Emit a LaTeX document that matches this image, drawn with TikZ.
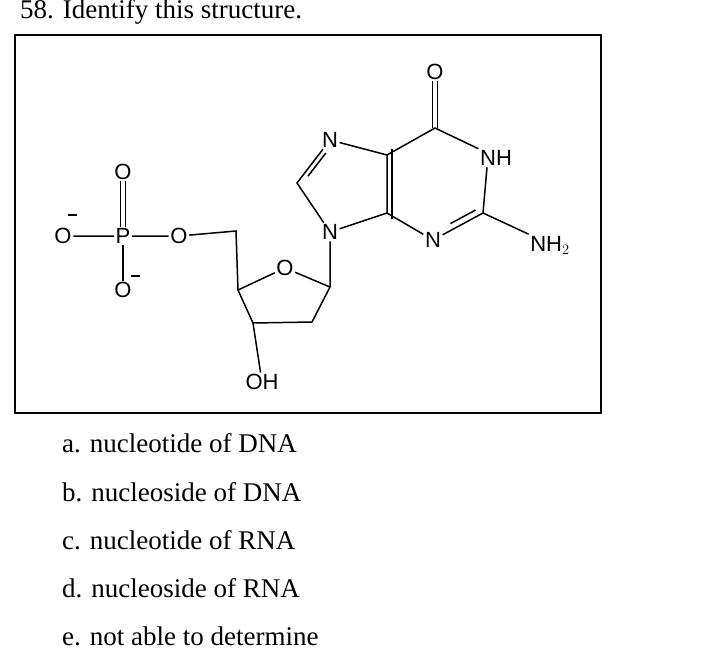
\documentclass[tikz,border=0pt]{standalone}
\usepackage{fontspec}
\setmainfont{Liberation Serif}
\newfontfamily\chem{Liberation Sans}
\usetikzlibrary{calc}
\begin{document}
\begin{tikzpicture}[x=1pt,y=-1pt,
  atm/.style={font=\chem\fontsize{22}{22}\selectfont, inner sep=1.5pt},
  bond/.style={line width=1.5pt},
  ans/.style={font=\fontsize{27}{27}\selectfont, anchor=west, inner sep=0pt}]
\useasboundingbox (0,0) rectangle (706,654);
\node[font=\fontsize{27}{27}\selectfont, anchor=west, inner sep=0pt] (title) at (20,12) {58. Identify this structure.};
\draw[line width=1.3pt] (15,35) rectangle (601,413);
% phosphate
\node[atm] (Om) at (63,236) {O};
\node[atm] (P) at (123,236) {P};
\node[atm] (Ot) at (123,172) {O};
\node[atm] (Ob) at (123,290) {O};
\node[atm] (Oe) at (179,236) {O};
\draw[bond] (68,215) -- (77,215);
\draw[bond] (131,276) -- (140,276);
\coordinate (C5p) at (236,231);
\coordinate (C4p) at (238,290);
\node[atm] (Or) at (285,268) {O};
\coordinate (C1p) at (330,287);
\coordinate (C2p) at (312,322);
\coordinate (C3p) at (253,323);
\node[atm] (OH) at (262,382) {OH};
\draw[bond] (Om) -- (P) -- (Oe) -- (C5p) -- (C4p) -- (Or) -- (C1p) -- (C2p) -- (C3p) -- (C4p);
\draw[bond] (P) -- (Ob);
\draw[bond] ([xshift=-2.5pt]P.north) -- ([xshift=-2.5pt]Ot.south);
\draw[bond] ([xshift=2.5pt]P.north) -- ([xshift=2.5pt]Ot.south);
\draw[bond] (C3p) -- (OH);
% base
\node[atm] (N9) at (330,232) {N};
\coordinate (C8) at (297,183);
\node[atm] (N7) at (330,140) {N};
\coordinate (C5) at (387,155);
\coordinate (C4) at (387,213);
\node[atm] (N3) at (433,240) {N};
\coordinate (C2) at (483,213);
\node[atm] (N1) at (496,158) {NH};
\coordinate (C6) at (435,128);
\node[atm] (O6) at (435,72) {O};
\node[atm] (NH2) at (550,245) {NH$_2$};
\draw[bond] (C1p) -- (N9) -- (C8) -- (N7) -- (C5) -- (C4) -- (N9);
\draw[bond] (C5) -- (C6) -- (N1.north west);
\draw[bond] ([xshift=-9pt]N1.south) -- (C2) -- (N3) -- (C4);
\draw[bond] (C2) -- (NH2.north west);
\draw[bond] ([xshift=-2.5pt]C6) -- ([xshift=-2.5pt]O6.south);
\draw[bond] ([xshift=2.5pt]C6) -- ([xshift=2.5pt]O6.south);
\draw[bond] ($(C8)!0.18!(N7)+(5,1)$) -- ($(C8)!0.72!(N7)+(5,1)$);
\draw[bond] ([xshift=5pt,yshift=6pt]C5) -- ([xshift=5pt,yshift=-6pt]C4);
\draw[bond] ([yshift=7pt]$(N3)!0.35!(C2)$) -- ([yshift=7pt]$(N3)!0.85!(C2)$);
% answers
\node[ans] (a) at (62,443) {a. nucleotide of DNA};
\node[ans] (b) at (62,492) {b. nucleoside of DNA};
\node[ans] (c) at (62,540) {c. nucleotide of RNA};
\node[ans] (d) at (62,588) {d. nucleoside of RNA};
\node[ans] (e) at (62,636) {e. not able to determine};
\end{tikzpicture}
\end{document}
